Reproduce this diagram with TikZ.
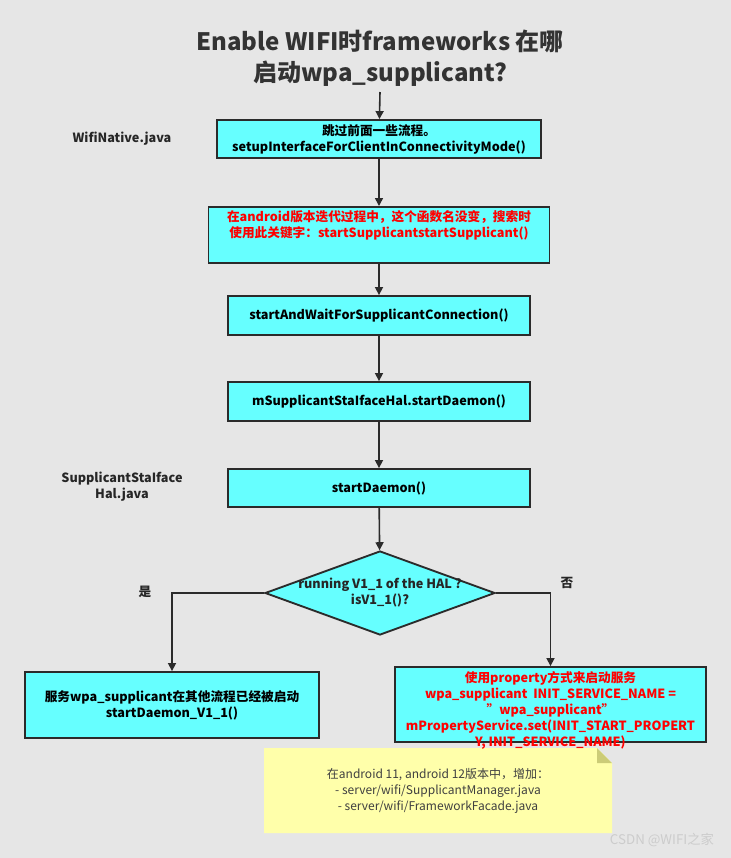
\documentclass[tikz,border=0pt]{standalone}
\usepackage{fontspec}
\setmainfont{Noto Sans CJK SC}
\usetikzlibrary{arrows.meta,shapes.geometric}
\definecolor{bg}{HTML}{E6E6E6}
\definecolor{cy}{HTML}{66FFFF}
\definecolor{bd}{HTML}{2B2B2B}
\definecolor{nt}{HTML}{FFFFAA}
\definecolor{nf}{HTML}{CCCC77}
\begin{document}
\begin{tikzpicture}[x=0.75pt,y=-0.75pt,
 box/.style={draw=bd,line width=1.4pt,fill=cy,align=center,font=\bfseries\fontsize{9.5}{12}\selectfont,inner sep=1pt},
 lbl/.style={align=center,font=\bfseries\fontsize{9.5}{12}\selectfont,text=black!85},
 arr/.style={draw=bd,line width=1.2pt,-{Triangle[length=6pt,width=6pt]}}]
\fill[bg] (0,0) rectangle (731,858);
\useasboundingbox (0,0) rectangle (731,858);
\node[font=\bfseries\fontsize{18}{23}\selectfont,text=black!80,align=center] (title) at (380,58) {Enable WIFI时frameworks 在哪\\启动wpa\_supplicant?};
\coordinate (top) at (380,92);
\node[box,minimum width=324*0.75pt,minimum height=38*0.75pt] (b1) at (379,139) {跳过前面一些流程。\\setupInterfaceForClientInConnectivityMode()};
\node[box,minimum width=341*0.75pt,minimum height=56*0.75pt,text=red,anchor=north,text depth=16pt] (b2) at (379,206) {在android版本迭代过程中，这个函数名没变，搜索时\\使用此关键字：startSupplicantstartSupplicant()};
\node[box,minimum width=302*0.75pt,minimum height=39*0.75pt] (b3) at (379,315.5) {startAndWaitForSupplicantConnection()};
\node[box,minimum width=302*0.75pt,minimum height=39*0.75pt] (b4) at (379,401.5) {mSupplicantStaIfaceHal.startDaemon()};
\node[box,minimum width=302*0.75pt,minimum height=38*0.75pt] (b5) at (379,488) {startDaemon()};
\node[draw=bd,line width=1.4pt,fill=cy,diamond,aspect=2.74,minimum width=230*0.75pt,minimum height=84*0.75pt,inner sep=0pt] (d) at (380,593) {};
\node[lbl] at (380,593) {running V1\_1 of the HAL ?\\isV1\_1()?};
\node[box,minimum width=294*0.75pt,minimum height=66*0.75pt] (bl) at (172,705) {服务wpa\_supplicant在其他流程已经被启动\\startDaemon\_V1\_1()};
\node[box,minimum width=311*0.75pt,minimum height=75*0.75pt,text=white!0] (br) at (550.5,704.5) {};
\node[lbl] at (122,139) {WifiNative.java};
\node[lbl] at (122,487) {SupplicantStaIface\\Hal.java};
\node[lbl] at (145,592) {是};
\node[lbl] at (567,583) {否};
\draw[arr] (top) -- (b1);
\draw[arr] (b1) -- (b2);
\draw[arr] (b2) -- (b3);
\draw[arr] (b3) -- (b4);
\draw[arr] (b4) -- (b5);
\draw[arr] (b5) -- (d);
\draw[arr] (d.west) -| (bl.north);
\draw[arr] (d.east) -| (br.north);
\fill[nt] (264,748) -- (597,748) -- (612,763) -- (612,833) -- (264,833) -- cycle;
\fill[nf] (597,748) -- (612,763) -- (597,763) -- cycle;
\node[align=center,font=\fontsize{9}{12}\selectfont,text=black!75] (note) at (438,791) {在android 11, android 12版本中，增加：\\- server/wifi/SupplicantManager.java\\- server/wifi/FrameworkFacade.java};
\node[font=\bfseries\fontsize{9.5}{12}\selectfont,text=red,align=center] at (550.5,710) {使用property方式来启动服务\\wpa\_supplicant~ INIT\_SERVICE\_NAME =\\"wpa\_supplicant"\\mPropertyService.set(INIT\_START\_PROPERT\\Y, INIT\_SERVICE\_NAME)};
\node[font=\fontsize{10}{12}\selectfont,text=white!60!gray] at (662,840) {CSDN @WIFI之家};
\end{tikzpicture}
\end{document}
